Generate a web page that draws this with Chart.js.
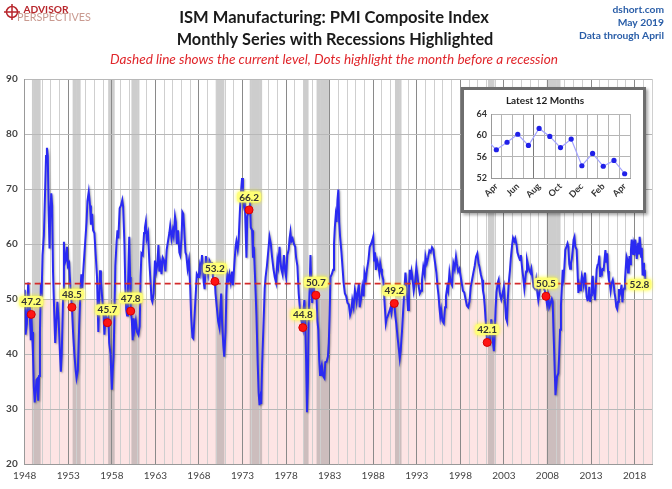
<!DOCTYPE html>
<html lang="en">
<head>
<meta charset="UTF-8">
<title>ISM Manufacturing PMI</title>
<script src="https://cdn.jsdelivr.net/npm/chart.js"></script>
<style>
  html, body { margin: 0; padding: 0; background: #fff; }
  #wrap { position: relative; width: 672px; height: 489px; }
  #inset { position: absolute; left: 461px; top: 87px; width: 179px; height: 120px;
           border: 3px solid #6e6e6e; background: #fff; box-shadow: 2px 2px 3px rgba(0,0,0,0.35); }
  canvas { display: block; }
</style>
</head>
<body>
<div id="wrap">
  <canvas id="pmiChart" width="672" height="489"></canvas>
  <div id="inset"><canvas id="lastChart" width="179" height="120"></canvas></div>
</div>
<script>
// PMI composite (decimal year, value)
const pmiYears = [
  1948.0,1948.1,1948.25,1948.4,1948.5,1948.6,1948.7,1948.75,1948.85,1948.95,1949.05,1949.15,1949.25,1949.35,1949.45,1949.55,1949.65,1949.75,1949.85,1949.95,
  1950.05,1950.2,1950.35,1950.45,1950.55,1950.65,1950.75,1950.85,1950.95,1951.05,1951.15,1951.25,1951.4,1951.5,1951.6,1951.75,1951.9,1952.05,1952.15,1952.25,1952.4,1952.5,1952.6,1952.7,1952.85,1952.95,1953.1,1953.25,1953.42,1953.55,1953.7,1953.85,1953.95,1954.1,1954.25,1954.4,1954.5,1954.6,1954.8,1954.95,
  1955.1,1955.2,1955.35,1955.5,1955.6,1955.75,1955.85,1956.0,1956.15,1956.3,1956.45,1956.55,1956.65,1956.75,1956.9,1957.05,1957.15,1957.3,1957.5,1957.6,1957.7,1957.85,1958.0,1958.1,1958.2,1958.3,1958.4,1958.55,1958.65,1958.75,1958.9,1959.05,1959.2,1959.3,1959.45,1959.55,1959.65,1959.75,1959.85,
  1960.0,1960.1,1960.17,1960.3,1960.4,1960.5,1960.6,1960.75,1960.9,1961.05,1961.2,1961.3,1961.4,1961.55,1961.7,1961.8,1961.9,1962.0,1962.15,1962.3,1962.45,1962.55,1962.65,1962.8,1962.95,1963.1,1963.2,1963.35,1963.45,1963.6,1963.7,1963.85,1964.0,1964.15,1964.3,1964.45,1964.6,1964.7,1964.85,
  1965.0,1965.1,1965.25,1965.35,1965.45,1965.6,1965.75,1965.85,1966.0,1966.1,1966.2,1966.3,1966.45,1966.55,1966.7,1966.85,1967.0,1967.1,1967.25,1967.35,1967.5,1967.6,1967.75,1967.9,1968.0,1968.1,1968.2,1968.35,1968.45,1968.55,1968.65,1968.8,1968.9,1969.05,1969.2,1969.35,1969.5,1969.6,1969.83,1969.9,
  1970.05,1970.2,1970.35,1970.45,1970.55,1970.65,1970.8,1970.9,1971.05,1971.15,1971.25,1971.4,1971.5,1971.65,1971.8,1971.9,1972.05,1972.2,1972.3,1972.45,1972.55,1972.7,1972.8,1972.95,1973.05,1973.15,1973.25,1973.35,1973.45,1973.55,1973.75,1973.85,1973.95,1974.1,1974.2,1974.3,1974.45,1974.6,1974.75,1974.85,1974.95,
  1975.05,1975.15,1975.25,1975.4,1975.55,1975.65,1975.8,1976.0,1976.1,1976.25,1976.4,1976.55,1976.7,1976.85,1977.0,1977.1,1977.25,1977.35,1977.45,1977.6,1977.75,1977.9,1978.0,1978.15,1978.3,1978.4,1978.5,1978.6,1978.75,1978.9,1979.05,1979.15,1979.3,1979.45,1979.55,1979.65,1979.92,
  1980.0,1980.1,1980.2,1980.3,1980.4,1980.5,1980.6,1980.7,1980.8,1980.9,1981.0,1981.1,1981.2,1981.42,1981.5,1981.6,1981.7,1981.8,1981.9,1982.0,1982.1,1982.25,1982.4,1982.5,1982.65,1982.8,1982.9,1983.0,1983.1,1983.25,1983.4,1983.5,1983.6,1983.7,1983.8,1983.9,1984.0,1984.1,1984.2,1984.35,1984.5,1984.6,1984.75,1984.9,
  1985.05,1985.2,1985.35,1985.5,1985.6,1985.75,1985.9,1986.0,1986.1,1986.2,1986.35,1986.45,1986.6,1986.75,1986.9,1987.0,1987.15,1987.3,1987.45,1987.6,1987.75,1987.9,1988.0,1988.1,1988.2,1988.3,1988.45,1988.6,1988.7,1988.8,1988.9,1989.0,1989.15,1989.3,1989.45,1989.55,1989.65,1989.8,
  1990.0,1990.1,1990.25,1990.42,1990.55,1990.65,1990.8,1990.95,1991.05,1991.15,1991.3,1991.4,1991.55,1991.7,1991.8,1991.9,1992.0,1992.1,1992.2,1992.3,1992.4,1992.5,1992.65,1992.8,1992.95,1993.1,1993.2,1993.35,1993.5,1993.6,1993.75,1993.9,1994.0,1994.15,1994.3,1994.45,1994.6,1994.75,1994.9,
  1995.0,1995.15,1995.25,1995.4,1995.5,1995.6,1995.7,1995.8,1995.95,1996.1,1996.25,1996.35,1996.5,1996.6,1996.75,1996.9,1997.05,1997.2,1997.35,1997.5,1997.6,1997.75,1997.9,1998.0,1998.15,1998.3,1998.45,1998.6,1998.75,1998.9,1999.05,1999.2,1999.35,1999.5,1999.65,1999.8,1999.95,
  2000.1,2000.2,2000.35,2000.5,2000.6,2000.7,2000.8,2000.95,2001.08,2001.2,2001.3,2001.4,2001.55,2001.65,2001.75,2001.85,2001.95,2002.05,2002.15,2002.3,2002.4,2002.5,2002.6,2002.7,2002.85,2003.0,2003.1,2003.25,2003.35,2003.45,2003.55,2003.7,2003.8,2003.95,2004.05,2004.2,2004.3,2004.45,2004.55,2004.7,2004.85,2004.95,
  2005.1,2005.2,2005.35,2005.45,2005.55,2005.65,2005.8,2005.9,2006.05,2006.15,2006.3,2006.4,2006.55,2006.7,2006.85,2006.95,2007.1,2007.25,2007.4,2007.55,2007.7,2007.83,2007.95,2008.1,2008.2,2008.35,2008.5,2008.6,2008.7,2008.8,2008.92,2009.0,2009.1,2009.25,2009.35,2009.45,2009.55,2009.65,2009.75,2009.85,2009.95,
  2010.05,2010.2,2010.3,2010.4,2010.5,2010.6,2010.7,2010.8,2010.9,2011.0,2011.1,2011.2,2011.35,2011.45,2011.55,2011.65,2011.75,2011.85,2011.95,2012.05,2012.15,2012.3,2012.4,2012.5,2012.6,2012.7,2012.8,2012.9,2013.0,2013.1,2013.2,2013.3,2013.4,2013.45,2013.55,2013.65,2013.75,2013.85,2013.95,2014.05,2014.15,2014.25,2014.35,2014.45,2014.55,2014.65,2014.75,2014.85,2014.95,
  2015.05,2015.15,2015.25,2015.35,2015.5,2015.6,2015.7,2015.8,2015.9,2016.0,2016.1,2016.2,2016.3,2016.4,2016.5,2016.6,2016.7,2016.8,2016.9,2017.0,2017.08,2017.17,2017.25,2017.33,2017.42,2017.5,2017.58,2017.67,2017.75,2017.83,2017.92,2018.0,2018.08,2018.17,2018.25,2018.33,2018.42,2018.5,2018.58,2018.67,2018.75,2018.83,2018.92,2019.0,2019.08,2019.17,2019.25
];
const pmiValues = [
  51.7,43.5,45.5,53,49,46.5,42.5,47.2,44,40,34,31.2,33,35.3,35.5,31.5,36,44,52,51.5,
  58,61.5,70,76,77.5,76,66,59.2,66,69.2,67,55,47,42,45,49.5,46,40,36.8,40,50,60.4,56.5,57,59.5,56,56.5,52,48.5,44,40,37,35.6,37,45,51.5,54.5,52,57,60.5,
  64,67.8,69.5,67,63.5,65.5,62.5,62,58,54,44,50,55.2,53.5,50,47,43.5,47,45.7,46.5,42,40,33.5,37,39.5,47,56,60.5,62.5,61,66.5,67,68,66.8,60,52,48,47,52,
  61.3,54,47.8,46,42.5,46.5,44.5,46,44,43.5,45,54,58.3,58,62,63,64,61,62,57,53,50,49.5,51,57,55,56,59.8,55,56.5,54.5,57.5,57,55,59,60.5,62,63.3,61,
  62.5,61.5,65,64,60,62.5,58.5,58,61,65.8,65.5,63,58.5,58,55.5,57,52,47,43,42.8,47,50,54.5,54,54.5,56,55,58,55.5,53,51.8,57.8,56,54.5,57,56.5,56.5,54,53.2,51,
  48.5,46,44.8,48,51,46,41.5,39.5,44,51,54.5,53.5,54.5,53,55,52.5,56,59.5,60.5,59,60.5,66,69,72,70,67.5,68.5,63,57.5,65,66.2,68,63,62.5,57.5,59.5,53.5,47,38,33,30.7,
  32,30.9,38,45,52,54,56,59.5,61.3,60,57.5,55.5,54,53,57,56,59.5,57,55.5,54.5,58,55,54,58,59,61,62.2,60.5,61,60,59.5,57.5,56,51,49,47,44.8,
  48,49.8,45.7,39,29.4,35,46.8,52,58,52,49.3,53,51,50.7,50,46,44.4,39,36.2,37.3,38,36,35.6,38.5,38.6,39.5,42,47,54,54.5,55.3,60,63.1,65.2,64,68,69.9,64,61.3,58.6,55.3,53,51,50.5,
  49.3,49,47.1,48,49.8,48.5,51.6,50.8,49.5,51,52.7,48.5,50,52.2,50.5,54.7,53.5,55.5,57,59.5,60,60.7,61.3,57,58.5,55.3,57,56,54.8,56.5,55.5,54.5,53.5,49.5,45.6,46.5,46.8,47.5,
  48.5,47.5,49.5,49.2,46.8,45.5,43,40.8,39.2,40.5,44,46.8,51,54.8,53,50.6,48,52,55.3,53.5,55,54,51.5,53,55.8,54,52.5,51,51.5,53.5,55.8,54.5,57.7,56.5,57.5,58.8,58.5,59.4,59,
  57.7,56,54.8,52,50.6,48.5,46.8,48,46,45.6,48.5,50.5,52.2,51.5,54.8,53,52.5,56.5,55.5,57.7,56.5,55,55.5,54.5,53,51.5,51.2,50,48.8,48.5,49.5,52.2,53.5,54.8,56,57.7,58.3,
  56.5,55.8,54.5,53.5,51.5,50.6,48.8,45,42.1,42.4,43,42.5,46.3,45,42,40.5,44,48.3,51.2,53,53.5,51.5,50.5,49.9,51,52.2,50,46.5,46,50,52.8,55.3,57.5,59.9,61.1,60.5,61,59.9,58.5,57.7,57.1,58,
  55.5,54.2,51.9,53.5,55,57.1,56,55.3,54.8,55.5,53.5,52.2,51.9,53.5,51,49.8,51.5,52.2,53,52,51.5,50.5,49,50.4,48.5,49.2,50,49.5,44,38.9,32.5,34,35.9,36.5,40,44.4,48.9,52,55.3,54,55.9,
  58.9,59.6,60.1,59.5,56.4,55.5,56.5,57.3,58.9,60.8,61.3,59.5,59,55.3,51.1,52.5,51.6,52.7,54.2,53.5,52.5,54.8,52.5,50.4,49.8,49.9,52.2,49.5,50.7,53.1,54.2,51.3,50.7,49.8,52.5,55.4,56.2,56.4,57.9,54,55.3,54.9,55.4,55.3,57.1,58.9,56.6,58.3,55.1,
  53.5,52.9,51.5,52.8,53.5,52.7,51.1,50.1,48.6,48.2,49.5,51.8,50.8,51.3,52.6,49.4,51.5,51.9,53.5,56,57.7,57.2,54.8,54.9,57.8,56.3,58.8,60.8,58.7,58.2,59.7,59.1,60.8,59.3,57.3,58.7,60.2,58.1,61.3,59.8,57.7,59.3,54.3,56.6,54.2,55.3,52.8
];

// NBER recessions
const recStart = [1948.83, 1953.5, 1957.58, 1960.25, 1969.92, 1973.83, 1980.0, 1981.5, 1990.5, 2001.17, 2007.92];
const recEnd   = [1949.83, 1954.42, 1958.33, 1961.17, 1970.92, 1975.25, 1980.58, 1982.92, 1991.25, 2001.92, 2009.5];

// month before each recession
const dotYears  = [1948.75, 1953.42, 1957.5, 1960.17, 1969.83, 1973.75, 1979.92, 1981.42, 1990.42, 2001.08, 2007.83];
const dotValues = [47.2, 48.5, 45.7, 47.8, 53.2, 66.2, 44.8, 50.7, 49.2, 42.1, 50.5];

const currentLevel = 52.8;
const xMin = 1948, xMax = 2020;

// inset: last 12 months (Mar 2018 sits just outside the left edge)
const lastMonths = ['Mar','Apr','May','Jun','Jul','Aug','Sep','Oct','Nov','Dec','Jan','Feb','Mar','Apr'];
const lastValues = [59.3, 57.3, 58.7, 60.2, 58.1, 61.3, 59.8, 57.7, 59.3, 54.3, 56.6, 54.2, 55.3, 52.8];

const FONT = 'Lato, "Open Sans", sans-serif';

function fitFont(ctx, text, width, style) {
  ctx.font = style + ' 20px ' + FONT;
  const size = 20 * width / ctx.measureText(text).width;
  ctx.font = style + ' ' + size.toFixed(2) + 'px ' + FONT;
  return size;
}

const backdrop = {
  id: 'backdrop',
  beforeDraw(chart) {
    const {ctx, chartArea: a, scales: {x, y}} = chart;
    ctx.save();
    const y50 = y.getPixelForValue(50);
    ctx.fillStyle = '#fde4e4';
    ctx.fillRect(a.left, y50, a.right - a.left, a.bottom - y50);
    ctx.fillStyle = 'rgba(135,135,135,0.42)';
    recStart.forEach((s, i) => {
      const x0 = x.getPixelForValue(s), x1 = x.getPixelForValue(recEnd[i]);
      ctx.fillRect(x0, a.top, x1 - x0, a.bottom - a.top);
    });
    ctx.restore();
  }
};

const lineShadow = {
  id: 'lineShadow',
  beforeDatasetDraw(chart, args) {
    if (args.index !== 2) return;
    const ctx = chart.ctx;
    ctx.save();
    ctx.shadowColor = 'rgba(0,0,0,0.35)';
    ctx.shadowBlur = 2;
    ctx.shadowOffsetX = 1;
    ctx.shadowOffsetY = 1;
  },
  afterDatasetDraw(chart, args) {
    if (args.index === 2) chart.ctx.restore();
  }
};

function tag(ctx, text, cx, cy) {
  ctx.font = 'bold 10px ' + FONT;
  const w = ctx.measureText(text).width + 4, h = 11;
  ctx.save();
  ctx.shadowColor = 'rgba(255,255,0,0.9)';
  ctx.shadowBlur = 4;
  ctx.fillStyle = 'rgba(255,255,120,0.95)';
  ctx.beginPath();
  ctx.roundRect(cx - w / 2, cy - h / 2, w, h, 3);
  ctx.fill();
  ctx.restore();
  ctx.fillStyle = '#333';
  ctx.textAlign = 'center';
  ctx.textBaseline = 'middle';
  ctx.fillText(text, cx, cy + 0.5);
}

const tags = {
  id: 'tags',
  afterDatasetsDraw(chart) {
    const ctx = chart.ctx;
    chart.getDatasetMeta(0).data.forEach((pt, i) => {
      tag(ctx, dotValues[i].toFixed(1), pt.x, pt.y - 13);
    });
    const line = chart.getDatasetMeta(2).data;
    const last = line[line.length - 1];
    tag(ctx, pmiValues[pmiValues.length - 1].toFixed(1), last.x - 6, last.y + 1);
  }
};

const headings = {
  id: 'headings',
  afterDraw(chart) {
    const ctx = chart.ctx;
    ctx.save();
    ctx.textBaseline = 'middle';
    ctx.textAlign = 'center';
    ctx.fillStyle = '#1a1a1a';
    fitFont(ctx, 'ISM Manufacturing: PMI Composite Index', 310, 'bold');
    ctx.fillText('ISM Manufacturing: PMI Composite Index', 334, 18);
    fitFont(ctx, 'Monthly Series with Recessions Highlighted', 317, 'bold');
    ctx.fillText('Monthly Series with Recessions Highlighted', 335, 40);
    ctx.fillStyle = '#e0262b';
    fitFont(ctx, 'Dashed line shows the current level, Dots highlight the month before a recession', 448, 'italic');
    ctx.fillText('Dashed line shows the current level, Dots highlight the month before a recession', 334, 60);

    // source block
    ctx.textAlign = 'right';
    ctx.fillStyle = '#2a5ea8';
    const s = fitFont(ctx, 'Data through April', 85, 'bold');
    ctx.font = 'bold ' + s.toFixed(2) + 'px ' + FONT;
    ctx.fillText('dshort.com', 664, 10);
    ctx.fillText('May 2019', 664, 23);
    ctx.fillText('Data through April', 664, 36);

    // logo
    ctx.strokeStyle = '#b8262c';
    ctx.fillStyle = '#b8262c';
    ctx.lineWidth = 1.5;
    ctx.beginPath(); ctx.arc(12, 12, 5.5, 0, Math.PI * 2); ctx.stroke();
    ctx.beginPath();
    ctx.moveTo(12, 4); ctx.lineTo(12, 20); ctx.moveTo(4, 12); ctx.lineTo(20, 12);
    ctx.stroke();
    ctx.textAlign = 'left';
    fitFont(ctx, 'ADVISOR', 45, 'bold');
    ctx.fillText('ADVISOR', 23.5, 10);
    ctx.fillStyle = '#c99a90';
    fitFont(ctx, 'PERSPECTIVES', 74, 'normal');
    ctx.fillText('PERSPECTIVES', 17, 18);
    ctx.restore();
  }
};

new Chart(document.getElementById('pmiChart'), {
  type: 'line',
  data: {
    datasets: [
      {
        label: 'Month before recession',
        data: dotYears.map((x, i) => ({x: x, y: dotValues[i]})),
        showLine: false,
        pointRadius: 4,
        pointBackgroundColor: '#ff1414',
        pointBorderColor: '#d40000',
        pointBorderWidth: 1,
        order: 0
      },
      {
        label: 'Current level',
        data: [{x: xMin, y: currentLevel}, {x: xMax, y: currentLevel}],
        borderColor: '#d42a2a',
        borderWidth: 1.6,
        borderDash: [6, 4],
        pointRadius: 0,
        order: 1
      },
      {
        label: 'PMI',
        data: pmiYears.map((x, i) => ({x: x, y: pmiValues[i]})),
        borderColor: '#2a2af2',
        borderWidth: 2,
        pointRadius: 0,
        tension: 0,
        order: 2
      }
    ]
  },
  options: {
    responsive: false,
    animation: false,
    layout: { padding: { top: 79, right: 20, left: 0, bottom: 0 } },
    plugins: { legend: { display: false }, tooltip: { enabled: false } },
    scales: {
      x: {
        type: 'linear',
        min: xMin,
        max: xMax,
        afterFit(s) { s.height = 25; },
        grid: {
          drawTicks: false,
          color: c => (c.tick && (c.tick.value - 1948) % 5 === 0) ? '#8a8a8a' : '#cfcfcf'
        },
        border: { color: '#999' },
        ticks: {
          stepSize: 1,
          autoSkip: false,
          maxRotation: 0,
          padding: 6,
          color: '#444',
          font: { size: 10, family: FONT },
          callback: v => ((v - 1948) % 5 === 0 ? String(v) : '')
        }
      },
      y: {
        min: 20,
        max: 90,
        afterFit(s) { s.width = 24.7; },
        grid: { drawTicks: false, color: '#b8b8b8' },
        border: { color: '#999' },
        ticks: { stepSize: 10, padding: 7, color: '#444', font: { size: 10, weight: 'bold', family: FONT } }
      }
    }
  },
  plugins: [backdrop, lineShadow, tags, headings]
});

const insetTitle = {
  id: 'insetTitle',
  afterDraw(chart) {
    const ctx = chart.ctx;
    ctx.save();
    ctx.font = 'bold 10px ' + FONT;
    ctx.fillStyle = '#222';
    ctx.textAlign = 'center';
    ctx.textBaseline = 'middle';
    ctx.fillText('Latest 12 Months', 81, 11);
    ctx.restore();
  }
};

new Chart(document.getElementById('lastChart'), {
  type: 'line',
  data: {
    labels: lastMonths,
    datasets: [{
      data: lastValues,
      borderColor: '#a3a3ff',
      borderWidth: 1.2,
      pointRadius: 2.6,
      pointBackgroundColor: '#2020e8',
      pointBorderWidth: 0,
      tension: 0
    }]
  },
  options: {
    responsive: false,
    animation: false,
    layout: { padding: { top: 24, right: 13, left: 0, bottom: 0 } },
    plugins: { legend: { display: false }, tooltip: { enabled: false } },
    scales: {
      x: {
        min: 1,
        offset: true,
        afterFit(s) { s.height = 32; },
        grid: { offset: true, drawTicks: false, color: c => (c.index === 4 ? '#7a7a7a' : '#b5b5b5') },
        border: { color: '#999' },
        ticks: {
          autoSkip: false,
          maxRotation: 45,
          minRotation: 45,
          padding: 3,
          color: '#333',
          font: { size: 9, weight: 'bold', family: FONT },
          callback(v) { return v % 2 === 1 ? this.getLabelForValue(v) : ''; }
        }
      },
      y: {
        min: 52,
        max: 64,
        afterFit(s) { s.width = 27; },
        grid: { drawTicks: false, color: '#b5b5b5' },
        border: { color: '#999' },
        ticks: { stepSize: 2, padding: 4, color: '#333', font: { size: 9, weight: 'bold', family: FONT } }
      }
    }
  },
  plugins: [insetTitle]
});
</script>
</body>
</html>
